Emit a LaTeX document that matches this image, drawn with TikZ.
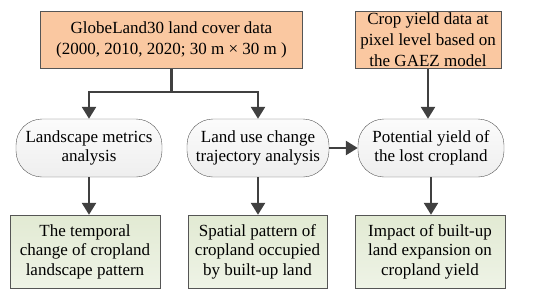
\documentclass[tikz,border=0pt]{standalone}
\usepackage{fontspec}
\setmainfont{Liberation Serif}
\usepackage{tikz}
\usetikzlibrary{arrows.meta}
\definecolor{datafill}{HTML}{FAC8A1}
\definecolor{resfill}{HTML}{E2EAD3}
\definecolor{reslight}{HTML}{EEF3E6}
\definecolor{edgegray}{HTML}{555555}
\definecolor{flowgray}{HTML}{404040}

\begin{document}
\begin{tikzpicture}[x=1pt, y=-1pt, >={Triangle[length=12pt,width=14pt]},
    databox/.style={draw=edgegray, fill=datafill, align=center, inner sep=0pt,
        font=\fontsize{17}{21}\selectfont},
    stepround/.style={draw=edgegray, top color=gray!3, bottom color=gray!13, align=center,
        inner sep=0pt, rounded corners=26pt, minimum width=146pt, minimum height=58pt,
        font=\fontsize{17}{19.5}\selectfont},
    resbox/.style={draw=edgegray, top color=resfill, bottom color=reslight, align=center,
        inner sep=0pt, minimum height=73pt, font=\fontsize{17}{19.5}\selectfont},
    flow/.style={->, line width=2.4pt, draw=flowgray}]
    \useasboundingbox (0,0) rectangle (550,300);
    % data sources
    \node[databox, minimum width=262pt, minimum height=57pt] (globe) at (171.5,40)
        {GlobeLand30 land cover data\\(2000, 2010, 2020; 30 m × 30 m )};
    \node[databox, minimum width=146pt, minimum height=57pt] (gaez) at (428,40)
        {Crop yield data at\\pixel level based on\\the GAEZ model};
    % analyses
    \node[stepround] (metrics) at (89,148) {Landscape metrics\\analysis};
    \node[stepround, minimum width=142pt] (traj) at (258,148) {Land use change\\trajectory analysis};
    \node[stepround] (potential) at (431,148) {Potential yield of\\the lost cropland};
    % results
    \node[resbox, minimum width=150pt] (temporal) at (85,251.5)
        {The temporal\\change of cropland\\landscape pattern};
    \node[resbox, minimum width=139pt] (spatial) at (257.5,251.5)
        {Spatial pattern of\\cropland occupied\\by built-up land};
    \node[resbox, minimum width=150pt] (impact) at (430,251.5)
        {Impact of built-up\\land expansion on\\cropland yield};
    % connectors
    \coordinate (split) at (171.5,92);
    \draw[line width=2.4pt, draw=flowgray] (globe.south) -- (split);
    \draw[flow] (split) -| (metrics.north);
    \draw[flow] (split) -| (traj.north);
    \draw[flow] (gaez.south) -- (gaez.south |- potential.north);
    \draw[flow] (traj.east) -- (potential.west);
    \draw[flow] (metrics.south) -- (metrics.south |- temporal.north);
    \draw[flow] (traj.south) -- (traj.south |- spatial.north);
    \draw[flow] (potential.south) -- (potential.south |- impact.north);
\end{tikzpicture}
\end{document}
